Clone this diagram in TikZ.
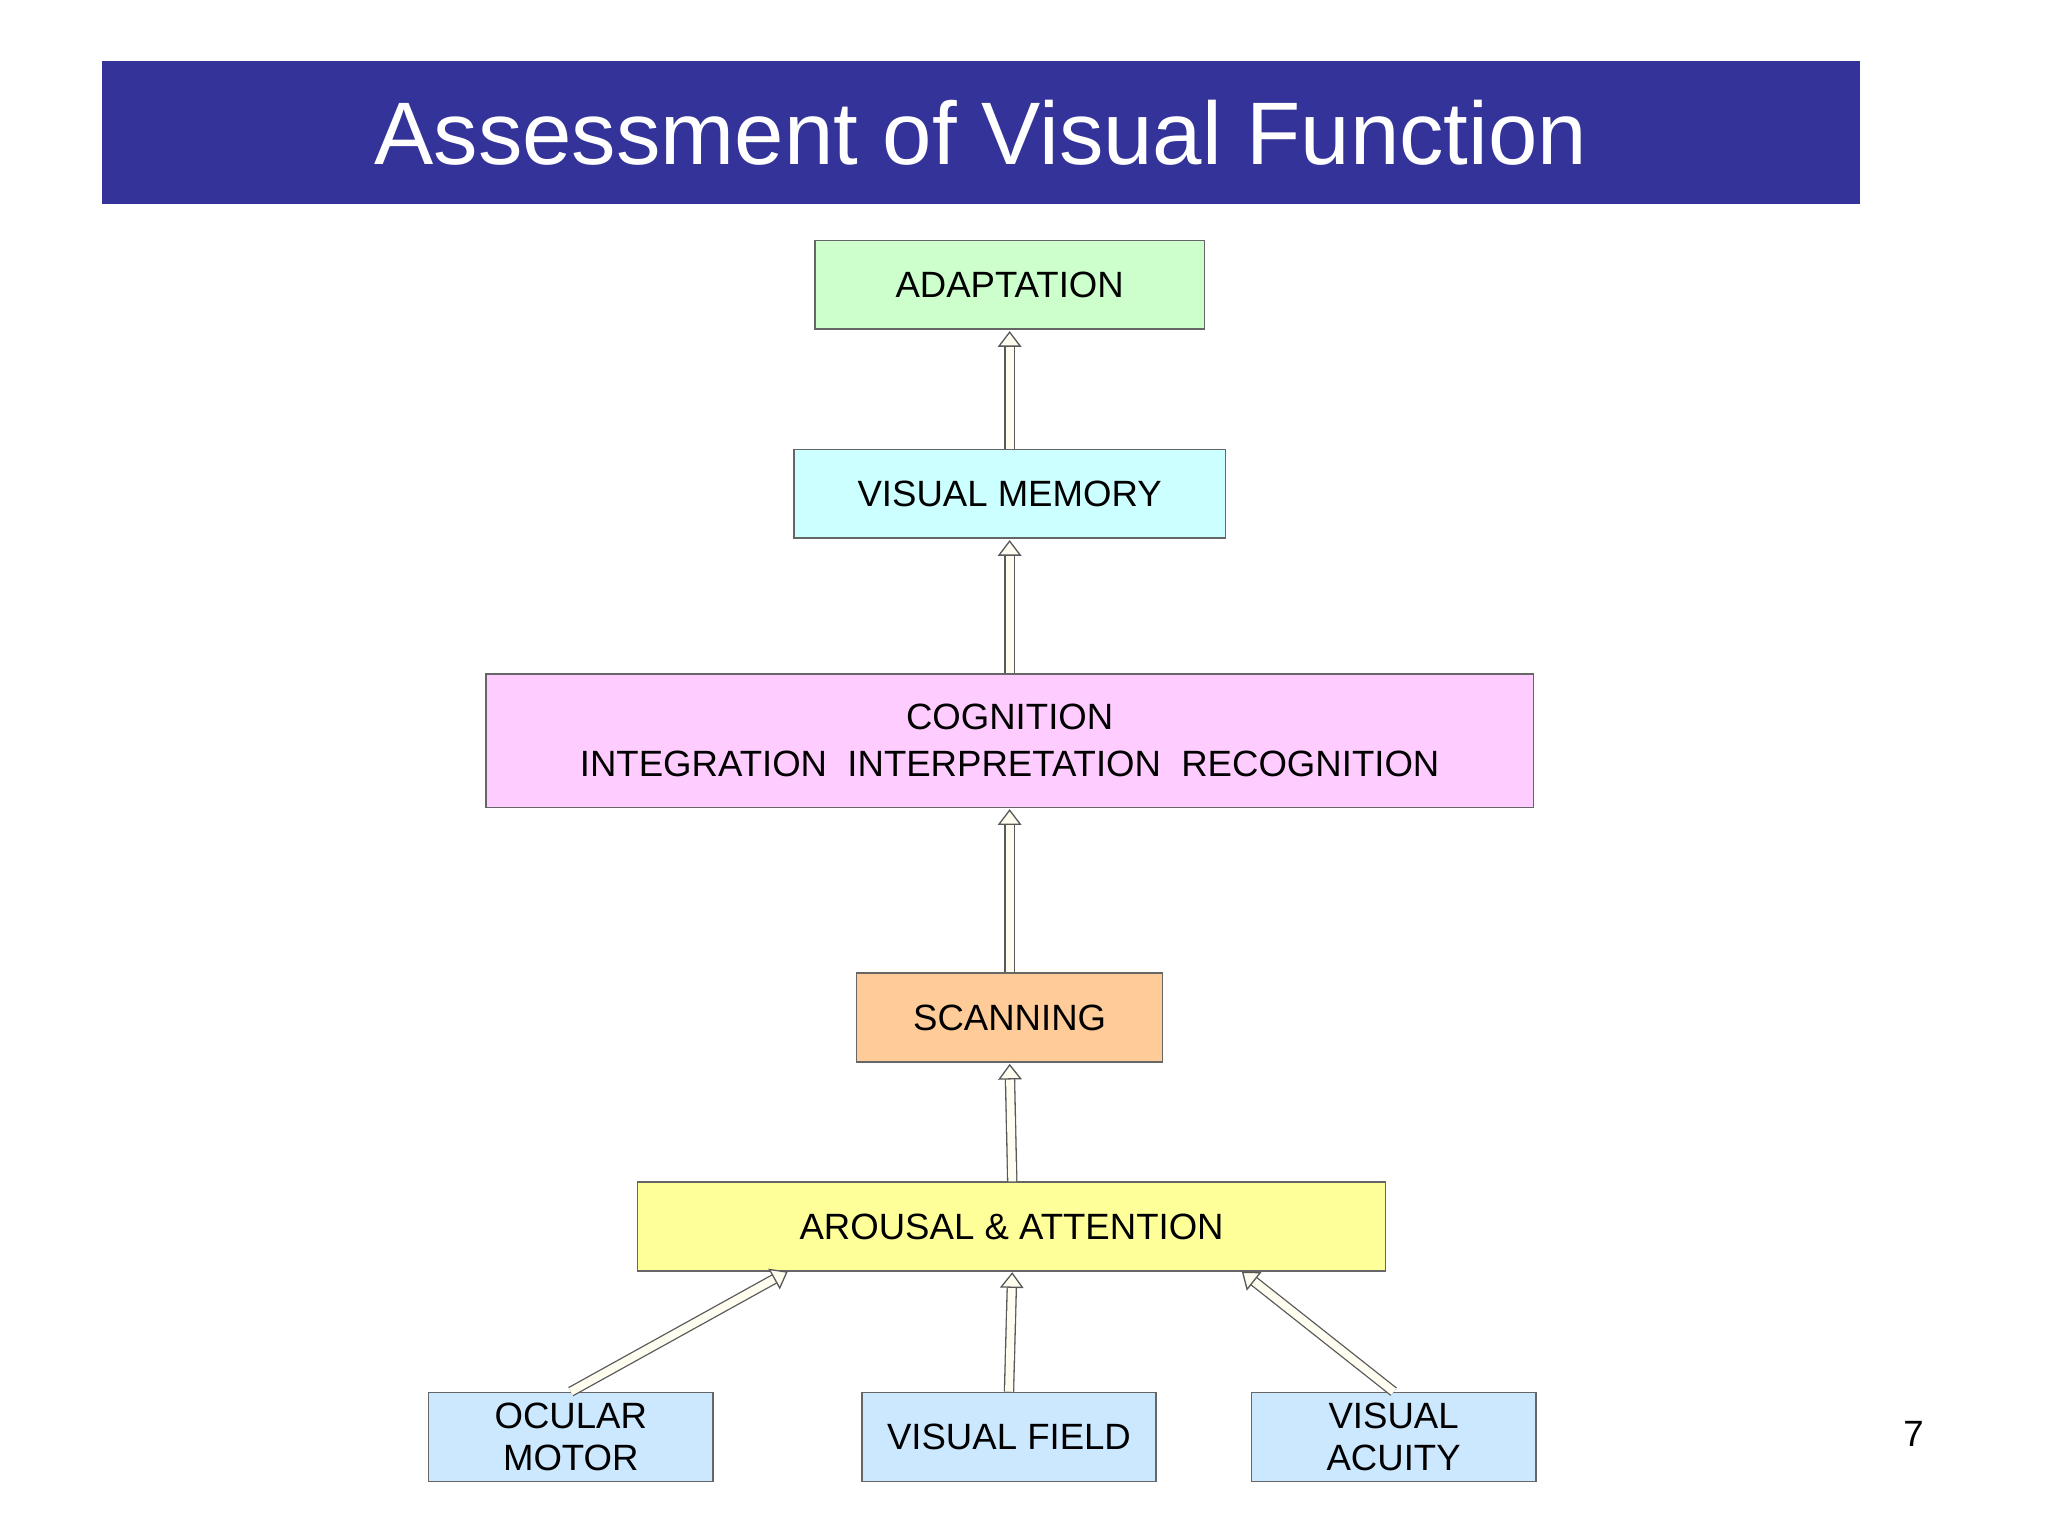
\documentclass[tikz,border=0pt]{standalone}
\usepackage{fontspec}
\setmainfont{Liberation Sans}
\usetikzlibrary{arrows.meta}
\begin{document}
\begin{tikzpicture}[x=0.5pt,y=-0.5pt,
  box/.style={draw=gray!80!black, line width=0.5pt, font=\fontsize{14}{16}\selectfont, align=center, inner sep=0pt},
  arr/.style={draw=gray!70!black, line width=0.5pt, double=black!8!yellow!6!white, double distance=3pt, -{Triangle[open,fill=black!8!yellow!6!white,length=6pt,width=9pt]}, shorten >=0.5pt}]
\useasboundingbox (0,0) rectangle (1568,1176);
\fill[white] (0,0) rectangle (1568,1176);
\definecolor{ttl}{HTML}{333399}
\node[fill=ttl, minimum width=673pt, minimum height=54.5pt, inner sep=0pt, text=white, font=\fontsize{34}{38}\selectfont] (title) at (751,101.5) {Assessment of Visual Function};
\node[box, fill={rgb,255:red,204;green,255;blue,204}, minimum width=149pt, minimum height=34pt] (ad) at (773,218) {ADAPTATION};
\node[box, fill={rgb,255:red,204;green,255;blue,255}, minimum width=165pt, minimum height=34pt] (vm) at (773,378) {VISUAL MEMORY};
\node[box, fill={rgb,255:red,255;green,204;blue,255}, minimum width=401pt, minimum height=51pt] (cog) at (773,567) {COGNITION\\[2pt]INTEGRATION\ \ INTERPRETATION\ \ RECOGNITION};
\node[box, fill={rgb,255:red,255;green,204;blue,153}, minimum width=117pt, minimum height=34pt] (sc) at (773,779) {SCANNING};
\node[box, fill={rgb,255:red,255;green,255;blue,153}, minimum width=286.5pt, minimum height=34pt] (ar) at (774.5,939) {AROUSAL \& ATTENTION};
\node[box, fill={rgb,255:red,204;green,232;blue,255}, minimum width=109pt, minimum height=34pt] (om) at (437,1100) {OCULAR\\MOTOR};
\node[box, fill={rgb,255:red,204;green,232;blue,255}, minimum width=112.5pt, minimum height=34pt] (vf) at (772.5,1100) {VISUAL FIELD};
\node[box, fill={rgb,255:red,204;green,232;blue,255}, minimum width=109pt, minimum height=34pt] (va) at (1067,1100) {VISUAL\\ACUITY};
\node[font=\fontsize{14}{16}\selectfont] (pg) at (1465,1098) {7};
\draw[arr] (vm.north) -- (ad.south);
\draw[arr] (cog.north) -- (vm.south);
\draw[arr] (sc.north) -- (cog.south);
\draw[arr] ([xshift=1]ar.north -| sc.north) -- (sc.south);
\coordinate (a1) at (604,973); \coordinate (a2) at (775,973); \coordinate (a3) at (950,973);
\draw[arr] (om.north) -- (a1);
\draw[arr] (vf.north) -- (a2);
\draw[arr] (va.north) -- (a3);
\end{tikzpicture}
\end{document}
